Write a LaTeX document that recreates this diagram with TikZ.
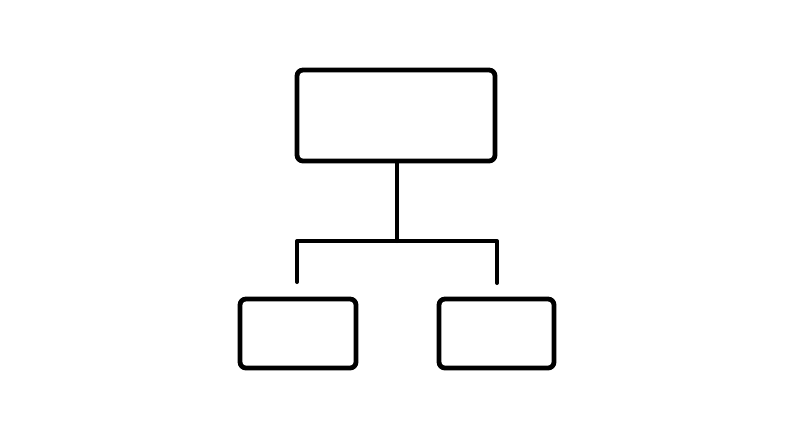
\documentclass[tikz,border=0pt]{standalone}
\begin{document}
\begin{tikzpicture}[x=1pt,y=-1pt,
  box/.style={draw=black,line width=4.8pt,rounded corners=6pt,rectangle,inner sep=0pt,outer sep=0pt},
  link/.style={draw=black,line width=4pt,line cap=round,line join=round}]
\useasboundingbox[fill=white] (0,0) rectangle (800,437);
\node[box,minimum width=198pt,minimum height=91pt] (top) at (396,115.5) {};
\node[box,minimum width=116pt,minimum height=69pt] (left) at (298,333.5) {};
\node[box,minimum width=115pt,minimum height=69pt] (right) at (496.5,333.5) {};
\coordinate (j) at (397,241);
\coordinate (ltop) at (297,241);
\coordinate (rtop) at (497,241);
\coordinate (lend) at (297,282);
\coordinate (rend) at (497,283);
\draw[link] (top.south -| j) -- (j);
\draw[link] (lend) -- (ltop) -- (rtop) -- (rend);
\end{tikzpicture}
\end{document}
